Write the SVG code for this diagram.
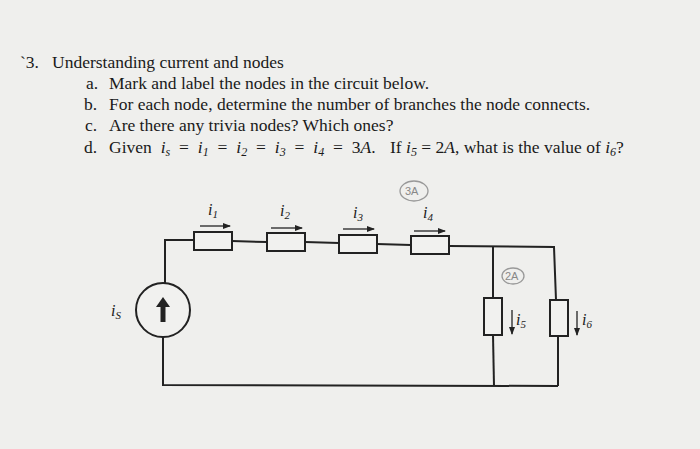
<svg xmlns="http://www.w3.org/2000/svg" width="700" height="449" viewBox="0 0 700 449">
<defs>
<marker id="ah" markerWidth="8" markerHeight="6" refX="7" refY="3" orient="auto" markerUnits="userSpaceOnUse"><path d="M0,0 L8,3 L0,6 z" fill="#222"/></marker>
<style>
.t{font-family:"Liberation Serif",serif;font-size:17.5px;fill:#1a1a1a}
.m{font-family:"Liberation Serif",serif;font-style:italic;font-size:16px;fill:#1a1a1a}
.w{fill:none;stroke:#222;stroke-width:2}
.r{fill:#f1f1ef;stroke:#222;stroke-width:2}
.a{stroke:#222;stroke-width:1.3;marker-end:url(#ah)}
.h{font-family:"Liberation Sans",sans-serif;font-size:11px;fill:#888}
</style>
</defs>
<rect width="700" height="449" fill="#efefed"/>
<g id="text">
<text class="t" x="20" y="68">`3.</text><text class="t" x="52" y="68">Understanding current and nodes</text>
<text class="t" x="86" y="89">a.</text><text class="t" x="109" y="89">Mark and label the nodes in the circuit below.</text>
<text class="t" x="84" y="110">b.</text><text class="t" x="109" y="110">For each node, determine the number of branches the node connects.</text>
<text class="t" x="85" y="131">c.</text><text class="t" x="109" y="131">Are there any trivia nodes? Which ones?</text>
<text class="t" x="84" y="153">d.</text><text class="t" x="109" y="153" word-spacing="4.5">Given <tspan font-style="italic">i<tspan font-size="12" dy="3">s</tspan></tspan><tspan dy="-3"> = </tspan><tspan font-style="italic">i<tspan font-size="12" dy="3">1</tspan></tspan><tspan dy="-3"> = </tspan><tspan font-style="italic">i<tspan font-size="12" dy="3">2</tspan></tspan><tspan dy="-3"> = </tspan><tspan font-style="italic">i<tspan font-size="12" dy="3">3</tspan></tspan><tspan dy="-3"> = </tspan><tspan font-style="italic">i<tspan font-size="12" dy="3">4</tspan></tspan><tspan dy="-3"> = 3</tspan><tspan font-style="italic">A</tspan>.</text>
<text class="t" x="390" y="153">If <tspan font-style="italic">i<tspan font-size="12" dy="3">5</tspan></tspan><tspan dy="-3"> = 2</tspan><tspan font-style="italic">A</tspan>, what is the value of <tspan font-style="italic">i<tspan font-size="12" dy="3">6</tspan></tspan><tspan dy="-3">?</tspan></text>
</g>
<g id="connectors">
<polyline class="w" points="165,283 165,240 194,240"/>
<line class="w" x1="232" y1="241" x2="267" y2="242"/>
<line class="w" x1="305" y1="242" x2="339" y2="243"/>
<line class="w" x1="377" y1="244" x2="411" y2="245"/>
<polyline class="w" points="449,246 554,247 556,300"/>
<line class="w" x1="493" y1="246" x2="493" y2="298"/>
<line class="w" x1="493" y1="335" x2="494" y2="386"/>
<line class="w" x1="558" y1="336" x2="558" y2="386"/>
<polyline class="w" points="163,337 163,385 558,386"/>
</g>
<g id="source"><circle cx="163" cy="310" r="27" fill="#f1f1ef" stroke="#222" stroke-width="2"/>
<line x1="163" y1="322" x2="163" y2="306" stroke="#222" stroke-width="5"/><path d="M156,307 L163,297 L170,307 z" fill="#222"/>
<text class="m" x="111" y="316">i<tspan font-size="11" dy="3">S</tspan></text></g>
<g id="R1"><rect class="r" x="194" y="232" width="38" height="18"/><line class="a" x1="200" y1="226" x2="230" y2="226"/><text class="m" x="208" y="215">i<tspan font-size="11" dy="3">1</tspan></text></g>
<g id="R2"><rect class="r" x="267" y="233" width="38" height="18"/><line class="a" x1="271" y1="228" x2="302" y2="228"/><text class="m" x="280" y="216">i<tspan font-size="11" dy="3">2</tspan></text></g>
<g id="R3"><rect class="r" x="339" y="235" width="38" height="18"/><line class="a" x1="343" y1="229" x2="374" y2="229"/><text class="m" x="353" y="218">i<tspan font-size="11" dy="3">3</tspan></text></g>
<g id="R4"><rect class="r" x="411" y="236" width="38" height="18"/><line class="a" x1="414" y1="231" x2="445" y2="231"/><text class="m" x="423" y="218">i<tspan font-size="11" dy="3">4</tspan></text></g>
<g id="R5"><rect class="r" x="484" y="298" width="18" height="37"/><line class="a" x1="512" y1="310" x2="512" y2="334"/><text class="m" x="516" y="325">i<tspan font-size="11" dy="3">5</tspan></text></g>
<g id="R6"><rect class="r" x="550" y="300" width="18" height="36"/><line class="a" x1="577" y1="311" x2="577" y2="335"/><text class="m" x="582" y="325">i<tspan font-size="11" dy="3">6</tspan></text></g>
<g id="notes">
<ellipse cx="414" cy="191" rx="14" ry="10" fill="none" stroke="#999" stroke-width="1.3"/><text class="h" x="405" y="195">3A</text>
<ellipse cx="513" cy="276" rx="11" ry="8" fill="none" stroke="#999" stroke-width="1.3"/><text class="h" x="505" y="280" font-size="10">2A</text>
</g>
</svg>
